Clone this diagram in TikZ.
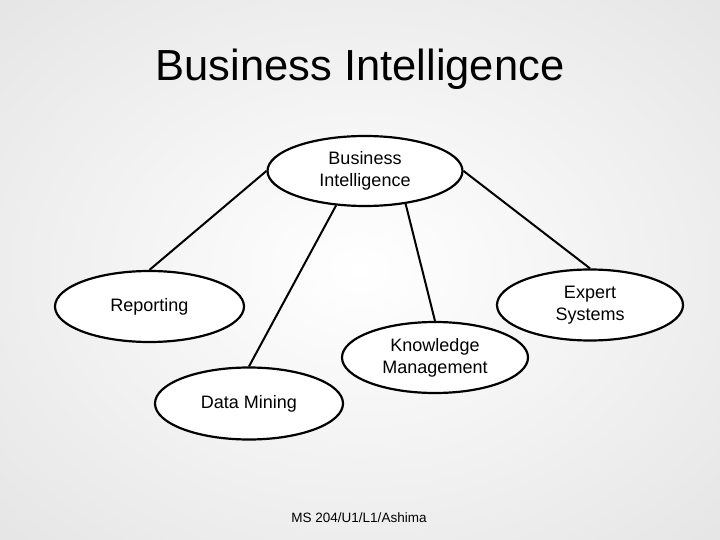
\documentclass[tikz,border=0pt]{standalone}
\usepackage{fontspec}
\setmainfont{Liberation Sans}
\usetikzlibrary{shapes.geometric}
\begin{document}
\begin{tikzpicture}[x=1pt,y=-1pt,
  oval/.style={ellipse,draw=black,line width=2.2pt,fill=white,inner sep=0pt,
    font=\fontsize{18}{22}\selectfont,align=center},
  link/.style={draw=black,line width=2pt}]
\useasboundingbox (0,0) rectangle (720,540);
\shade[inner color=white,outer color=black!11] (-200,-150) rectangle (920,690);
\node[font=\fontsize{43.5}{48}\selectfont] (title) at (360,69) {Business Intelligence};
\node[oval,minimum width=195pt,minimum height=70pt] (bi) at (365,171) {Business\\Intelligence};
\node[oval,minimum width=189pt,minimum height=71pt] (rep) at (149.5,306.5) {Reporting};
\node[oval,minimum width=186pt,minimum height=71pt] (exp) at (590,305) {Expert\\Systems};
\node[oval,minimum width=186pt,minimum height=71pt] (km) at (435,357.5) {Knowledge\\Management};
\node[oval,minimum width=188pt,minimum height=72pt] (dm) at (249,403.5) {Data Mining};
\draw[link] (bi.west) -- (rep.north);
\draw[link] (bi.east) -- (exp.north);
\draw[link] (bi.230) -- (dm.north);
\draw[link] (bi.321) -- (km.north);
\node[font=\fontsize{13.5}{15}\selectfont] (foot) at (359,518) {MS 204/U1/L1/Ashima};
\end{tikzpicture}
\end{document}
